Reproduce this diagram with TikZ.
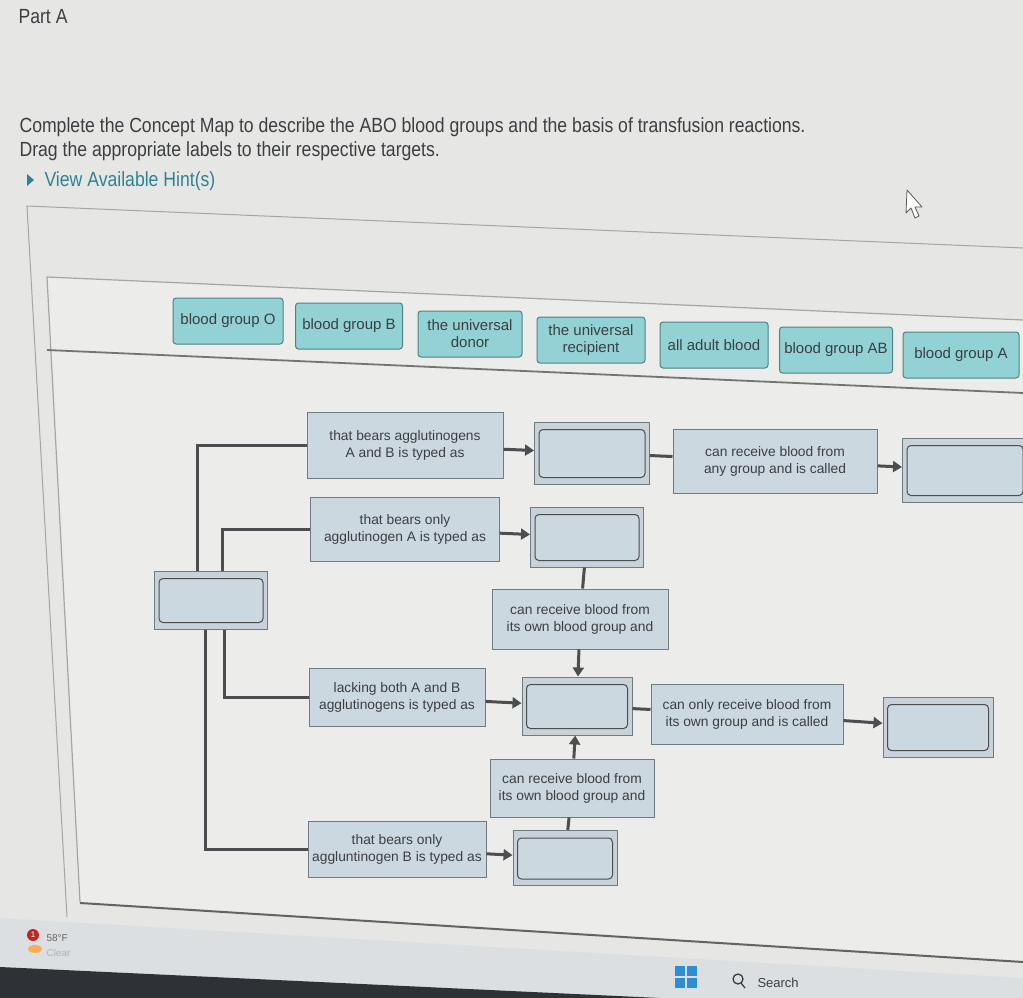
\documentclass[tikz,border=0pt]{standalone}
\usepackage{fontspec}
\setmainfont{Liberation Sans}
\newfontfamily\narrowfont[FakeStretch=0.86]{Liberation Sans}
\usetikzlibrary{arrows.meta}

\definecolor{screenbg}{HTML}{E6E7E4}
\definecolor{panelbg}{HTML}{ECEDEA}
\definecolor{boxfill}{HTML}{CCD8DF}
\definecolor{slotfill}{HTML}{C9D2D8}
\definecolor{boxedge}{HTML}{6E7C82}
\definecolor{tilefill}{HTML}{93D2D4}
\definecolor{tileedge}{HTML}{4F8185}
\definecolor{linkgray}{HTML}{4B4D4F}
\definecolor{textgray}{HTML}{3C3F42}
\definecolor{hintteal}{HTML}{2F8194}
\definecolor{panelline}{HTML}{A4A6A5}
\definecolor{taskbar}{HTML}{DCDFE2}
\definecolor{bezel}{HTML}{2E3237}
\definecolor{winblue}{HTML}{2C8FD6}

\tikzset{
  concept/.style={draw=boxedge, fill=boxfill, line width=1pt, text=textgray, align=center,
    font=\fontsize{13.8}{17}\selectfont, inner sep=2pt},
  target/.style={draw=boxedge, fill=slotfill, line width=1pt},
  slot/.style={draw=linkgray, fill=boxfill, line width=1pt, rounded corners=4pt},
  tile/.style={draw=tileedge, fill=tilefill, line width=1pt, rounded corners=3pt, text=textgray,
    align=center, font=\fontsize{15}{17}\selectfont, minimum height=46pt, inner sep=1pt},
  header/.style={anchor=west, text=textgray, font=\narrowfont\fontsize{20.5}{22}\selectfont},
  link/.style={draw=linkgray, line width=3pt},
  arrow/.style={link, -{Triangle[length=9pt,width=11pt]}},
}

\begin{document}
\begin{tikzpicture}[x=1pt,y=-1pt]
\useasboundingbox (0,0) rectangle (1023,998);
\clip (0,0) rectangle (1023,998);
\fill[screenbg] (0,0) rectangle (1023,998);

% Heading
\node[header] (parta) at (15,17) {Part A};
\node[header] (task) at (16,127) {Complete the Concept Map to describe the ABO blood groups and the basis of transfusion reactions.};
\node[header] (drag) at (16,151) {Drag the appropriate labels to their respective targets.};
\node[header, text=hintteal] (hint) at (41,181) {View Available Hint(s)};
\fill[hintteal] (27,174) -- (34,180) -- (27,186) -- cycle;

% Panels
\fill[panelbg] (47,277) -- (1023,320) -- (1023,962) -- (80,902) -- cycle;
\draw[panelline, line width=1pt] (67,917) -- (27,206) -- (1023,248);
\draw[panelline, line width=1.2pt] (80,902) -- (47,277) -- (1023,320);
\draw[panelline!70!black, line width=1.8pt] (47,350) -- (1023,393);
\draw[panelline!60!black, line width=2pt] (80,903) -- (1023,962);

% Mouse pointer
\draw[gray!70!black, fill=white, line width=0.8pt, line join=round]
  (907,190) -- (906,213) -- (911,208) -- (915,218) -- (919,216) -- (915,207) -- (922,207) -- cycle;

% Label bank
\node[tile, minimum width=110pt] (lblO) at (228,321) {blood group O};
\node[tile, minimum width=107pt] (lblB) at (349,326) {blood group B};
\node[tile, minimum width=104pt] (lbldonor) at (470,334) {the universal\\donor};
\node[tile, minimum width=108pt] (lblrecip) at (591,340) {the universal\\recipient};
\node[tile, minimum width=108pt] (lbladult) at (714,345) {all adult blood};
\node[tile, minimum width=113pt] (lblAB) at (836,350) {blood group AB};
\node[tile, minimum width=116pt] (lblA) at (961,355) {blood group A};

% Concept boxes
\node[concept, minimum width=196pt, minimum height=66pt] (abtext) at (405,445) {that bears agglutinogens\\A and B is typed as};
\node[concept, minimum width=204pt, minimum height=64pt] (anygrp) at (775,461) {can receive blood from\\any group and is called};
\node[concept, minimum width=189pt, minimum height=64pt] (atext) at (405,529) {that bears only\\agglutinogen A is typed as};
\node[concept, minimum width=176pt, minimum height=60pt] (ownup) at (580,619) {can receive blood from\\its own blood group and};
\node[concept, minimum width=176pt, minimum height=58pt] (otext) at (397,697) {lacking both A and B\\agglutinogens is typed as};
\node[concept, minimum width=192pt, minimum height=60pt] (onlygrp) at (747,714) {can only receive blood from\\its own group and is called};
\node[concept, minimum width=164pt, minimum height=58pt] (owndown) at (572,788) {can receive blood from\\its own blood group and};
\node[concept, minimum width=178pt, minimum height=56pt] (btext) at (397,849) {that bears only\\aggluntinogen B is typed as};

% Empty targets
\node[target, minimum width=115pt, minimum height=62pt] (tAB) at (592,453) {};
\node[target, minimum width=125pt, minimum height=64pt] (tuniv1) at (965,470) {};
\node[target, minimum width=113pt, minimum height=60pt] (tA) at (587,537) {};
\node[target, minimum width=113pt, minimum height=58pt] (troot) at (211,600) {};
\node[target, minimum width=110pt, minimum height=58pt] (tO) at (577,706) {};
\node[target, minimum width=110pt, minimum height=60pt] (tuniv2) at (938,727) {};
\node[target, minimum width=104pt, minimum height=55pt] (tB) at (565,858) {};
\foreach \n in {tAB,tuniv1,tA,troot,tO,tuniv2,tB}
  \draw[slot] ([shift={(5pt,-8pt)}]\n.north west) rectangle ([shift={(-5pt,7pt)}]\n.south east);

% Connectors from the root
\draw[link] ([xshift=-14pt]troot.north) |- (abtext.west);
\draw[link] ([xshift=11pt]troot.north) |- (atext.west);
\draw[link] ([xshift=13pt]troot.south) |- (otext.west);
\draw[link] ([xshift=-6pt]troot.south) |- (btext.west);

% Typed as
\draw[arrow] (abtext) -- (tAB);
\draw[arrow] (atext) -- (tA);
\draw[arrow] (otext) -- (tO);
\draw[arrow] (btext) -- (tB);

% Receiving blood
\draw[link] (tAB) -- (anygrp);
\draw[arrow] (anygrp) -- (tuniv1);
\draw[link] (tA) -- (ownup);
\draw[arrow] (ownup) -- (tO);
\draw[link] (tB) -- (owndown);
\draw[arrow] (owndown) -- (tO);
\draw[link] (tO) -- (onlygrp);
\draw[arrow] (onlygrp) -- (tuniv2);

% Taskbar
\fill[taskbar] (0,918) -- (1023,978) -- (1023,998) -- (0,998) -- cycle;
\fill[bezel] (0,967) -- (660,998) -- (0,998) -- cycle;
\fill[orange!65] (35,949) ellipse (7pt and 4pt);
\fill[red!70!black!85] (33,935) circle (6pt);
\node[text=white, font=\fontsize{8}{8}\selectfont] (badge) at (33,935) {1};
\node[anchor=west, text=gray!80!black, font=\fontsize{10}{10}\selectfont] (temp) at (43,938) {58°F};
\node[anchor=west, text=gray!60, font=\fontsize{10}{10}\selectfont] (sky) at (43,953) {Clear};
\fill[winblue] (675,966) rectangle (685,976);
\fill[winblue] (687,966) rectangle (697,976);
\fill[winblue] (675,978) rectangle (685,988);
\fill[winblue] (687,978) rectangle (697,988);
\draw[textgray, line width=1.3pt] (738,979) circle (5pt);
\draw[textgray, line width=1.3pt] (741,983) -- (745,988);
\node[anchor=west, text=textgray, font=\fontsize{13}{14}\selectfont] (search) at (754,983) {Search};
\end{tikzpicture}
\end{document}
